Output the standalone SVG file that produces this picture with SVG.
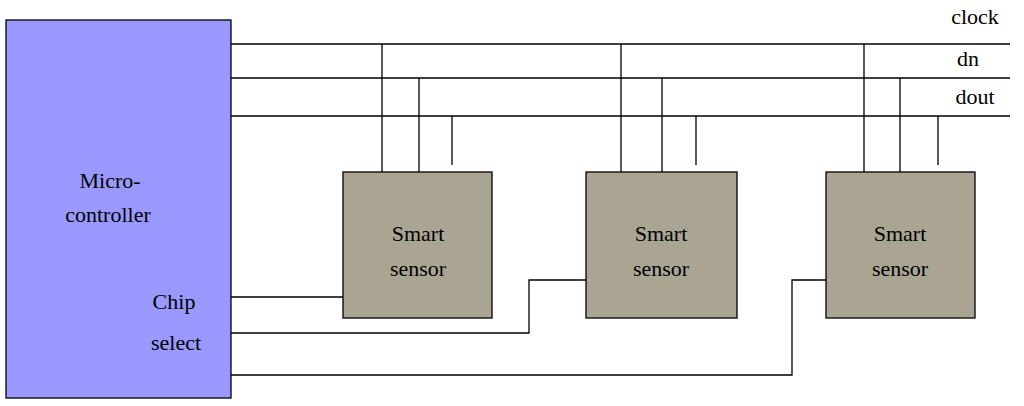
<svg xmlns="http://www.w3.org/2000/svg" width="1024" height="406" viewBox="0 0 1024 406">
<style>
.w{stroke:#000;stroke-width:1.3;fill:none}
.s{fill:#aaa592;stroke:#000;stroke-width:1.3}
text{font-family:"Liberation Serif",serif;font-size:22px;fill:#000}
.c{text-anchor:middle}
</style>
<rect width="1024" height="406" fill="#fff"/>
<g id="mcu"><rect x="6" y="20" width="225" height="378" fill="#9999ff" stroke="#000" stroke-width="1.3"/>
<text x="110" y="188" class="c">Micro-</text><text x="108" y="222" class="c">controller</text>
<text x="174" y="309" class="c">Chip</text><text x="176" y="350" class="c">select</text></g>
<g id="connectors">
<path class="w" d="M231 44H1010M231 78H1010M231 116H1010"/>
<path class="w" d="M382 44V172M419 78V172M452 116V165M621 44V172M662 78V172M696 116V165M864 44V172M900 78V172M938 116V165"/>
<path class="w" d="M231 297H343M231 333H529V280H586M231 375H792V280H826"/>
</g>
<g id="labels"><text x="975" y="24" class="c">clock</text><text x="968" y="66" class="c">dn</text><text x="975" y="104" class="c">dout</text></g>
<g id="s1"><rect class="s" x="343" y="172" width="149" height="146"/><text x="418" y="241" class="c">Smart</text><text x="418" y="276" class="c">sensor</text></g>
<g id="s2"><rect class="s" x="586" y="172" width="151" height="146"/><text x="661" y="241" class="c">Smart</text><text x="661" y="276" class="c">sensor</text></g>
<g id="s3"><rect class="s" x="826" y="172" width="149" height="146"/><text x="900" y="241" class="c">Smart</text><text x="900" y="276" class="c">sensor</text></g>
</svg>
